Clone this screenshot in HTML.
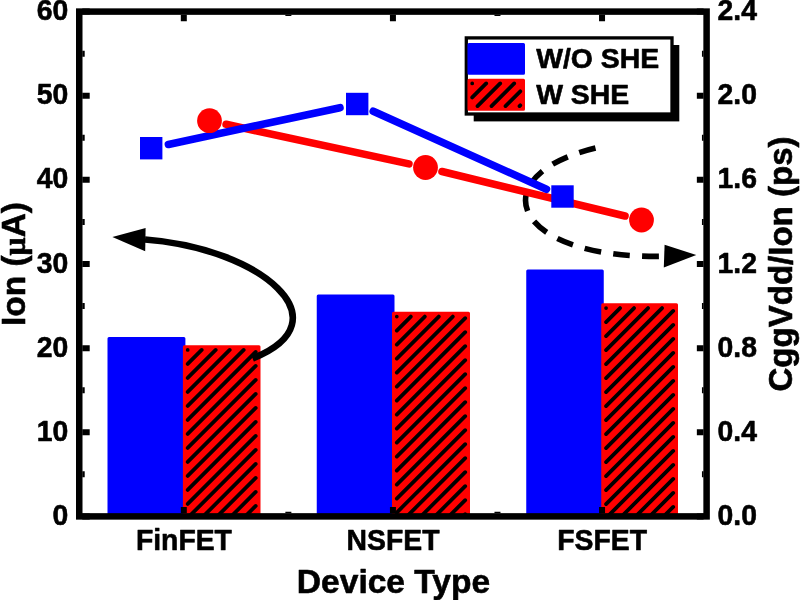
<!DOCTYPE html>
<html><head><meta charset="utf-8"><title>Ion and CggVdd/Ion by Device Type</title>
<style>html,body{margin:0;padding:0;background:#fff;}svg{display:block;}text{font-family:"Liberation Sans",Arial,Helvetica,sans-serif;font-weight:bold;fill:#000;stroke:#000;stroke-width:0.6px;stroke-linejoin:round;}</style>
</head><body>
<svg width="800" height="600" viewBox="0 0 800 600">
<rect width="800" height="600" fill="#fff"/>
<g stroke-linejoin="round">
<rect x="109.00" y="338.40" width="74.90" height="178.00" fill="#0000ff" stroke="#0000ff" stroke-width="3"/>
<rect x="184.40" y="346.65" width="74.60" height="169.75" fill="#ff0000" stroke="#ff0000" stroke-width="3"/>
<path d="M187.70 349.95L187.70 349.95M187.70 363.95L201.70 349.95M187.70 377.95L215.70 349.95M187.70 391.95L229.70 349.95M187.70 405.95L243.70 349.95M187.70 419.95L255.70 351.95M187.70 433.95L255.70 365.95M187.70 447.95L255.70 379.95M187.70 461.95L255.70 393.95M187.70 475.95L255.70 407.95M187.70 489.95L255.70 421.95M187.70 503.95L255.70 435.95M189.25 516.40L255.70 449.95M203.25 516.40L255.70 463.95M217.25 516.40L255.70 477.95M231.25 516.40L255.70 491.95M245.25 516.40L255.70 505.95" stroke="#000" stroke-width="3.75" stroke-linecap="round" fill="none"/>
<rect x="318.25" y="296.00" width="74.75" height="220.40" fill="#0000ff" stroke="#0000ff" stroke-width="3"/>
<rect x="393.50" y="313.25" width="75.00" height="203.15" fill="#ff0000" stroke="#ff0000" stroke-width="3"/>
<path d="M396.80 316.55L396.80 316.55M396.80 330.55L410.80 316.55M396.80 344.55L424.80 316.55M396.80 358.55L438.80 316.55M396.80 372.55L452.80 316.55M396.80 386.55L465.20 318.15M396.80 400.55L465.20 332.15M396.80 414.55L465.20 346.15M396.80 428.55L465.20 360.15M396.80 442.55L465.20 374.15M396.80 456.55L465.20 388.15M396.80 470.55L465.20 402.15M396.80 484.55L465.20 416.15M396.80 498.55L465.20 430.15M396.80 512.55L465.20 444.15M406.95 516.40L465.20 458.15M420.95 516.40L465.20 472.15M434.95 516.40L465.20 486.15M448.95 516.40L465.20 500.15M462.95 516.40L465.20 514.15" stroke="#000" stroke-width="3.75" stroke-linecap="round" fill="none"/>
<rect x="527.75" y="271.00" width="74.50" height="245.40" fill="#0000ff" stroke="#0000ff" stroke-width="3"/>
<rect x="602.75" y="304.75" width="73.75" height="211.65" fill="#ff0000" stroke="#ff0000" stroke-width="3"/>
<path d="M606.05 308.05L606.05 308.05M606.05 322.05L620.05 308.05M606.05 336.05L634.05 308.05M606.05 350.05L648.05 308.05M606.05 364.05L662.05 308.05M606.05 378.05L673.20 310.90M606.05 392.05L673.20 324.90M606.05 406.05L673.20 338.90M606.05 420.05L673.20 352.90M606.05 434.05L673.20 366.90M606.05 448.05L673.20 380.90M606.05 462.05L673.20 394.90M606.05 476.05L673.20 408.90M606.05 490.05L673.20 422.90M606.05 504.05L673.20 436.90M607.70 516.40L673.20 450.90M621.70 516.40L673.20 464.90M635.70 516.40L673.20 478.90M649.70 516.40L673.20 492.90M663.70 516.40L673.20 506.90" stroke="#000" stroke-width="3.75" stroke-linecap="round" fill="none"/>
</g>
<path d="M252.6 358.5C346.9 320.8 260.5 248 145 239.5" fill="none" stroke="#000" stroke-width="6.6"/>
<polygon points="112.4,237 145.6,227.9 145.2,251.3" fill="#000"/>
<path d="M595.5 148C480.6 175.6 509.8 259.3 664 256.3" fill="none" stroke="#000" stroke-width="5.6" stroke-dasharray="16.8 12.3"/>
<polygon points="696.3,255 664.6,244.8 663.8,267.6" fill="#000"/>
<g stroke-linecap="round" stroke-width="7.6" fill="none">
<line x1="226.11" y1="124.30" x2="408.89" y2="163.90" stroke="#ff0000"/>
<line x1="442.02" y1="171.52" x2="624.98" y2="215.98" stroke="#ff0000"/>
<line x1="168.41" y1="144.51" x2="339.99" y2="107.69" stroke="#0000ff"/>
<line x1="373.25" y1="111.23" x2="546.45" y2="189.27" stroke="#0000ff"/>
</g>
<circle cx="209.50" cy="120.70" r="12.4" fill="#ff0000"/>
<circle cx="425.50" cy="167.50" r="12.4" fill="#ff0000"/>
<circle cx="641.50" cy="220.00" r="12.4" fill="#ff0000"/>
<rect x="140.00" y="137.00" width="22.4" height="22.4" fill="#0000ff"/>
<rect x="346.00" y="92.80" width="22.4" height="22.4" fill="#0000ff"/>
<rect x="551.30" y="185.30" width="22.4" height="22.4" fill="#0000ff"/>
<rect x="79.25" y="11.60" width="627.35" height="504.80" fill="none" stroke="#000" stroke-width="6.5"/>
<path d="M82.30 516.40h7.40M703.55 516.40h-6.70M82.30 432.27h7.40M703.55 432.27h-6.70M82.30 348.13h7.40M703.55 348.13h-6.70M82.30 264.00h7.40M703.55 264.00h-6.70M82.30 179.87h7.40M703.55 179.87h-6.70M82.30 95.73h7.40M703.55 95.73h-6.70M82.30 11.60h7.40M703.55 11.60h-6.70M82.30 474.33h2.40M703.55 474.33h-1.60M82.30 390.20h2.40M703.55 390.20h-1.60M82.30 306.07h2.40M703.55 306.07h-1.60M82.30 221.93h2.40M703.55 221.93h-1.60M82.30 137.80h2.40M703.55 137.80h-1.60M82.30 53.67h2.40M703.55 53.67h-1.60M183.81 14.65v6.50M183.81 513.35v-6.30M392.93 14.65v6.50M392.93 513.35v-6.30M602.04 14.65v6.50M602.04 513.35v-6.30M288.37 14.65v1.40M288.37 513.35v-1.70M497.48 14.65v1.40M497.48 513.35v-1.70" stroke="#000" stroke-width="6" fill="none"/>
<g font-size="30">
<text transform="translate(68.20 525.00) scale(0.9450 1)" text-anchor="end">0</text>
<text transform="translate(717.60 525.00) scale(0.9450 1)" text-anchor="start">0.0</text>
<text transform="translate(68.20 440.87) scale(0.9450 1)" text-anchor="end">10</text>
<text transform="translate(717.60 440.87) scale(0.9450 1)" text-anchor="start">0.4</text>
<text transform="translate(68.20 356.73) scale(0.9450 1)" text-anchor="end">20</text>
<text transform="translate(717.60 356.73) scale(0.9450 1)" text-anchor="start">0.8</text>
<text transform="translate(68.20 272.60) scale(0.9450 1)" text-anchor="end">30</text>
<text transform="translate(717.60 272.60) scale(0.9450 1)" text-anchor="start">1.2</text>
<text transform="translate(68.20 188.47) scale(0.9450 1)" text-anchor="end">40</text>
<text transform="translate(717.60 188.47) scale(0.9450 1)" text-anchor="start">1.6</text>
<text transform="translate(68.20 104.33) scale(0.9450 1)" text-anchor="end">50</text>
<text transform="translate(717.60 104.33) scale(0.9450 1)" text-anchor="start">2.0</text>
<text transform="translate(68.20 20.20) scale(0.9450 1)" text-anchor="end">60</text>
<text transform="translate(717.60 20.20) scale(0.9450 1)" text-anchor="start">2.4</text>
<text transform="translate(183.91 550.20) scale(0.9450 1)" text-anchor="middle">FinFET</text>
<text transform="translate(393.03 550.20) scale(0.9450 1)" text-anchor="middle">NSFET</text>
<text transform="translate(602.14 550.20) scale(0.9450 1)" text-anchor="middle">FSFET</text>
</g>
<g font-size="33.4">
<text transform="translate(393.50 592.50) scale(1.0050 1)" text-anchor="middle">Device Type</text>
<text transform="translate(25.2 264) rotate(-90)" text-anchor="middle">Ion (<tspan font-family="Liberation Serif,serif" font-size="32">μ</tspan>A)</text>
<text transform="translate(792.3 264) rotate(-90)" text-anchor="middle" font-size="33.05">CggVdd/Ion (ps)</text>
</g>
<rect x="473.7" y="45" width="205.6" height="76.4" fill="#000"/>
<rect x="466.3" y="37.9" width="205.7" height="76.1" fill="#fff" stroke="#000" stroke-width="3.3"/>
<g stroke-linejoin="round">
<rect x="469" y="44.5" width="54.5" height="28.7" fill="#0000ff" stroke="#0000ff" stroke-width="3"/>
<rect x="469" y="80.2" width="54.5" height="29.1" fill="#ff0000" stroke="#ff0000" stroke-width="3"/>
<path d="M472.20 83.40L472.20 83.40M472.20 97.40L486.20 83.40M477.50 106.10L500.20 83.40M491.50 106.10L514.20 83.40M505.50 106.10L520.30 91.30M519.50 106.10L520.30 105.30" stroke="#000" stroke-width="3.75" stroke-linecap="round" fill="none"/>
</g>
<g font-size="28.4">
<text x="536.2" y="68.2">W/O SHE</text>
<text x="536.2" y="103.8">W SHE</text>
</g>
</svg>
</body></html>
